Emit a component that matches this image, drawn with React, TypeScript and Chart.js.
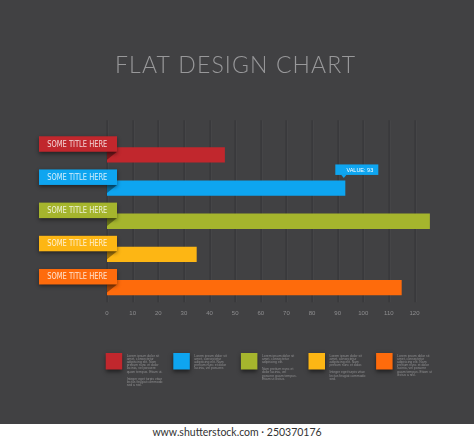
import { useEffect, useRef } from 'react';
import { Chart, registerables } from 'chart.js';

Chart.register(...registerables);

// chart data
const categories = ['SOME TITLE HERE', 'SOME TITLE HERE', 'SOME TITLE HERE', 'SOME TITLE HERE', 'SOME TITLE HERE'];
const values = [46, 93, 126, 35, 115];
const barColors = ['#c1272d', '#0ea5f0', '#a5b52d', '#fdb614', '#fe6b0c'];
const xMin = 0;
const xMax = 120;
const xStep = 10;
const highlightIndex = 1;
const highlightLabel = 'VALUE: 93';
const chartTitle = 'FLAT DESIGN CHART';
const footerText = 'www.shutterstock.com · 250370176';

// placeholder copy under each legend swatch (paragraphs)
const legendNotes = [
    [
        'Lorem ipsum dolor sit amet, consectetur adipiscing elit. Nam pretium nunc et dolor lacinia, vel posuere quam tempus. Etiam ut.',
        'Integer eget turpis vitae lectus feugiat commodo sed a nisl.',
    ],
    ['Lorem ipsum dolor sit amet, consectetur adipiscing elit. Nam pretium nunc et dolor lacinia, vel posuere.'],
    [
        'Lorem ipsum dolor sit amet, consectetur adipiscing elit.',
        'Nam pretium nunc et dolor lacinia, vel posuere quam tempus. Etiam ut lectus.',
    ],
    [
        'Lorem ipsum dolor sit amet, consectetur adipiscing elit. Nam pretium nunc et dolor.',
        'Integer eget turpis vitae lectus feugiat commodo sed.',
    ],
    [
        'Lorem ipsum dolor sit amet, consectetur adipiscing elit. Nam pretium nunc et dolor lacinia, vel posuere quam tempus. Etiam ut lectus a nisl.',
    ],
];

const BG = '#414143';

const wrap = (ctx: CanvasRenderingContext2D, text: string, width: number) => {
    const words = text.split(' ');
    const lines: string[] = [];
    let line = '';
    words.forEach((w) => {
        const test = line ? line + ' ' + w : w;
        if (ctx.measureText(test).width > width && line) {
            lines.push(line);
            line = w;
        } else {
            line = test;
        }
    });
    if (line) lines.push(line);
    return lines;
};

const flatPlugin = {
    id: 'flatDesign',
    beforeDraw: (chart: any) => {
        const { ctx, width, height } = chart;
        ctx.save();
        ctx.fillStyle = BG;
        ctx.fillRect(0, 0, width, height);

        // title
        ctx.font = '300 23px Lato, "Open Sans", sans-serif';
        const natural = ctx.measureText(chartTitle).width;
        const spacing = Math.max(0, (240 - natural) / (chartTitle.length - 1));
        ctx.letterSpacing = spacing + 'px';
        ctx.fillStyle = '#98989a';
        ctx.textAlign = 'left';
        ctx.textBaseline = 'alphabetic';
        ctx.fillText(chartTitle, 115, 72.5);
        ctx.letterSpacing = '0px';
        ctx.restore();
    },
    beforeDatasetsDraw: (chart: any) => {
        const { ctx, chartArea, scales } = chart;
        const xScale = scales.x;
        const top = chartArea.top - 18;
        const bottom = chartArea.bottom - 2;
        ctx.save();
        xScale.ticks.forEach((t: any) => {
            const x = Math.round(xScale.getPixelForValue(t.value));
            ctx.fillStyle = '#363638';
            ctx.fillRect(x - 0.5, top, 1.2, bottom - top);
            ctx.fillStyle = 'rgba(255,255,255,0.035)';
            ctx.fillRect(x + 0.7, top, 1, bottom - top);
        });
        ctx.restore();
    },
    afterDatasetsDraw: (chart: any) => {
        const { ctx, chartArea } = chart;
        const meta = chart.getDatasetMeta(0);
        ctx.save();
        meta.data.forEach((bar: any, i: number) => {
            const barTop = bar.y - bar.height / 2;
            const base = bar.base;
            const color = barColors[i];
            const tagLeft = 39;
            const tagRight = base + 10;
            const tagTop = barTop - 11;
            const tagH = 15.5;

            // tag with soft shadow
            ctx.save();
            ctx.shadowColor = 'rgba(0,0,0,0.45)';
            ctx.shadowBlur = 4;
            ctx.shadowOffsetY = 2;
            ctx.fillStyle = color;
            ctx.fillRect(tagLeft, tagTop, tagRight - tagLeft, tagH);
            ctx.restore();

            // fold under the tag
            ctx.fillStyle = 'rgba(0,0,0,0.38)';
            ctx.beginPath();
            ctx.moveTo(base, tagTop + tagH);
            ctx.lineTo(tagRight, tagTop + tagH);
            ctx.lineTo(base, tagTop + tagH + 8);
            ctx.closePath();
            ctx.fill();

            // tag text
            ctx.font = '8.5px "Liberation Sans Narrow", "DejaVu Sans Condensed", "Liberation Sans", sans-serif';
            const tw = ctx.measureText(categories[i]).width;
            const sx = 60 / tw;
            ctx.save();
            ctx.translate(47.3, tagTop + tagH / 2 + 0.5);
            ctx.scale(sx, 1);
            ctx.fillStyle = 'rgba(255,255,255,0.82)';
            ctx.textAlign = 'left';
            ctx.textBaseline = 'middle';
            ctx.fillText(categories[i], 0, 0);
            ctx.restore();

            // value callout on the highlighted bar
            if (i === highlightIndex) {
                const bx = bar.x - 10;
                const bw = 43;
                const bh = 10.5;
                const by = barTop - 16;
                ctx.fillStyle = color;
                ctx.fillRect(bx, by, bw, bh);
                ctx.beginPath();
                ctx.moveTo(bar.x - 4, by + bh);
                ctx.lineTo(bar.x + 1, by + bh);
                ctx.lineTo(bar.x - 1.5, by + bh + 3);
                ctx.closePath();
                ctx.fill();
                ctx.font = '5.5px "Liberation Sans", sans-serif';
                ctx.fillStyle = '#ffffff';
                ctx.textAlign = 'center';
                ctx.textBaseline = 'middle';
                ctx.fillText(highlightLabel, bx + bw / 2 + 3, by + bh / 2 + 0.5);
            }
        });

        // legend swatches with notes
        const colW = 67.6;
        const startX = chartArea.left - 1.3;
        const sy = 353;
        barColors.forEach((c, i) => {
            const x = startX + i * colW;
            ctx.save();
            ctx.shadowColor = 'rgba(0,0,0,0.5)';
            ctx.shadowBlur = 4;
            ctx.shadowOffsetY = 2;
            ctx.fillStyle = c;
            ctx.fillRect(x, sy, 16.5, 16.5);
            ctx.restore();

            ctx.font = '3.4px "Liberation Sans", sans-serif';
            ctx.fillStyle = 'rgba(190,190,192,0.6)';
            ctx.textAlign = 'left';
            ctx.textBaseline = 'top';
            let ly = sy + 1;
            legendNotes[i].forEach((p) => {
                wrap(ctx, p, 36).forEach((ln) => {
                    ctx.fillText(ln, x + 21, ly);
                    ly += 3.2;
                });
                ly += 4;
            });
        });
        ctx.restore();
    },
};

const App = () => {
    const chartRef = useRef<HTMLCanvasElement>(null);

    useEffect(() => {
        const ctx = chartRef.current?.getContext('2d');
        if (!ctx) return;
        const chart = new Chart(ctx, {
            type: 'bar',
            data: {
                labels: categories,
                datasets: [
                    {
                        data: values,
                        backgroundColor: barColors,
                        borderWidth: 0,
                        barPercentage: 0.46,
                        categoryPercentage: 1,
                        clip: false as any,
                    },
                ],
            },
            options: {
                indexAxis: 'y',
                responsive: false,
                animation: false,
                layout: {
                    padding: { left: 107, right: 59.5, top: 138.3, bottom: 100.6 },
                },
                scales: {
                    x: {
                        min: xMin,
                        max: xMax,
                        grid: { display: false, drawTicks: false },
                        border: { display: false },
                        ticks: {
                            stepSize: xStep,
                            padding: 6,
                            color: '#8e8e90',
                            font: { size: 6, family: '"Liberation Sans", sans-serif' },
                            maxRotation: 0,
                        },
                    },
                    y: { display: false },
                },
                plugins: {
                    legend: { display: false },
                    tooltip: { enabled: false },
                    title: { display: false },
                },
            },
            plugins: [flatPlugin],
        });
        return () => {
            chart.destroy();
        };
    }, []);

    return (
        <div style={{ position: 'fixed', left: 0, top: 0, width: 474, height: 440, background: '#fff' }}>
            <canvas ref={chartRef} width={474} height={424} style={{ display: 'block', width: 474, height: 424 }} />
            <div
                style={{
                    height: 16,
                    lineHeight: '16px',
                    textAlign: 'center',
                    fontFamily: 'Lato, "Open Sans", sans-serif',
                    fontSize: 10.5,
                    color: '#333',
                }}
            >
                {footerText}
            </div>
        </div>
    );
};

export default App;
